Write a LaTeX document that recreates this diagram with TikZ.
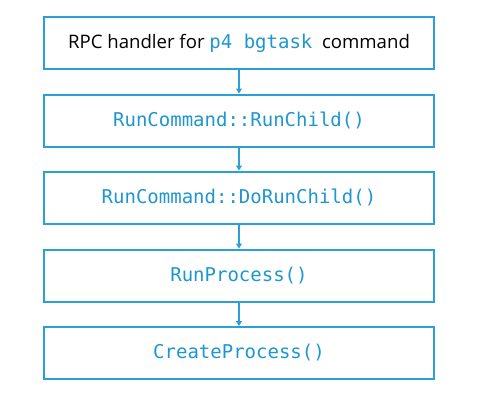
\documentclass[tikz,border=0pt]{standalone}
\usepackage{fontspec}
\setmainfont{Open Sans}
\setmonofont{DejaVu Sans Mono}
\usetikzlibrary{arrows.meta}
\definecolor{boxblue}{HTML}{2A9FD8}
\definecolor{codeblue}{HTML}{1E96D0}
\tikzset{
  stepbox/.style={draw=boxblue, line width=2pt, minimum width=390pt, minimum height=52pt, inner sep=0pt, font=\fontsize{18.6}{22}\selectfont},
  flow/.style={draw=boxblue, line width=1.4pt, -{Triangle[length=5pt,width=6pt]}},
}
\newcommand{\cd}[1]{{\ttfamily\fontsize{19}{22}\selectfont\color{codeblue}#1}}
\begin{document}
\begin{tikzpicture}[x=1pt,y=-1pt]
\useasboundingbox (0,0) rectangle (479,400);
\node[stepbox] (a) at (239,43) {RPC handler for \cd{p4 bgtask} \ command};
\node[stepbox] (b) at (239,120.5) {\cd{RunCommand::RunChild()}};
\node[stepbox] (c) at (239,197.5) {\cd{RunCommand::DoRunChild()}};
\node[stepbox] (d) at (239,275.5) {\cd{RunProcess()}};
\node[stepbox] (e) at (239,353) {\cd{CreateProcess()}};
\draw[flow] (a) -- (b);
\draw[flow] (b) -- (c);
\draw[flow] (c) -- (d);
\draw[flow] (d) -- (e);
\end{tikzpicture}
\end{document}
